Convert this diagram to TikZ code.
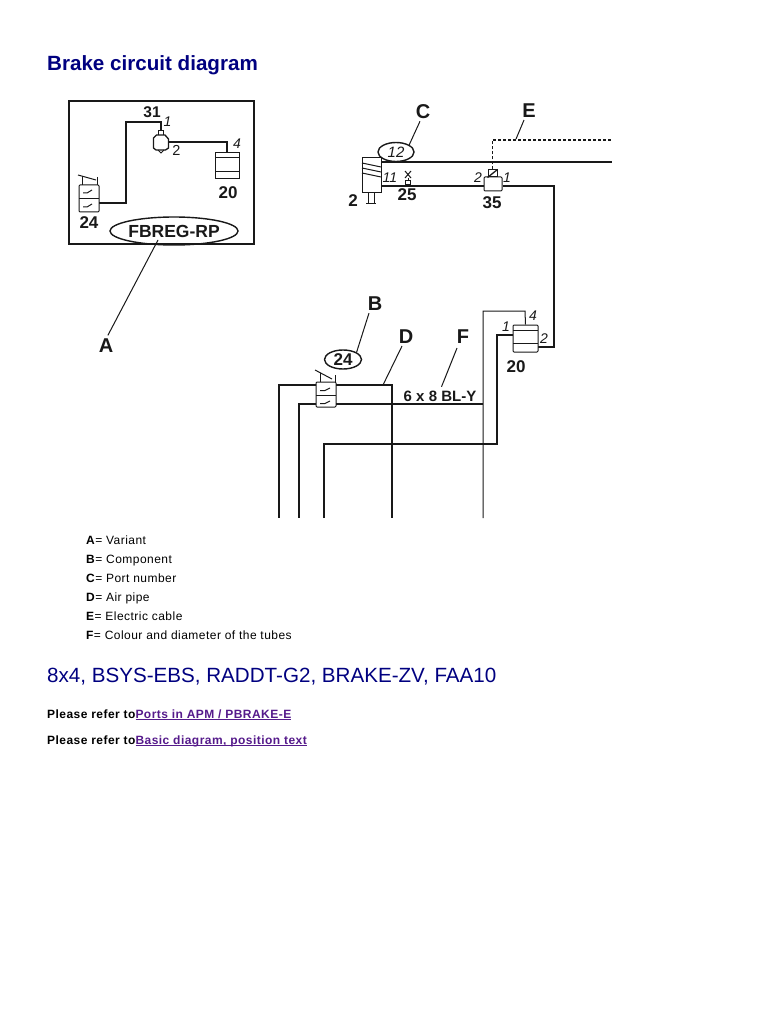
\documentclass[tikz,border=0pt]{standalone}
\usepackage{fontspec}
\setmainfont{Liberation Sans}
\usetikzlibrary{shapes.geometric}
\definecolor{headblue}{RGB}{0,0,128}
\definecolor{linkpurple}{RGB}{85,26,139}
\definecolor{ink}{RGB}{25,25,25}
\tikzset{
  pipe/.style={ink,line width=1.3pt},
  thinpipe/.style={ink,line width=1pt},
  thickpipe/.style={ink,line width=1.6pt},
  cable/.style={ink,line width=1.6pt,dash pattern=on 3pt off 2pt},
  leader/.style={ink,line width=1pt},
  part/.style={draw=ink,line width=1pt,fill=white,inner sep=0pt},
  tag/.style={ink,inner sep=0pt,font=\fontsize{17}{17}\selectfont\bfseries},
  letter/.style={ink,inner sep=0pt,font=\fontsize{20}{20}\selectfont\bfseries},
  port/.style={ink,inner sep=0pt,font=\fontsize{14}{14}\selectfont\itshape},
  oval/.style={draw=ink,ellipse,line width=1.4pt,inner sep=0pt},
  legend/.style={anchor=base west,inner sep=0pt,font=\fontsize{12}{12}\selectfont\addfontfeature{LetterSpace=3.9}},
  refer/.style={anchor=base west,inner sep=0pt,font=\fontsize{12}{12}\selectfont\bfseries\addfontfeature{LetterSpace=3.9}}
}
\begin{document}
\begin{tikzpicture}[x=1pt,y=-1pt]
\useasboundingbox (0,0) rectangle (768,1024);
\fill[white] (0,0) rectangle (768,1024);
\node[anchor=base west,inner sep=0pt,text=headblue,font=\fontsize{20.6}{20.6}\selectfont\bfseries] (title) at (47,71) {Brake circuit diagram};

\draw[ink,line width=1.4pt] (69,101) rectangle (254,244);
\node[part,minimum width=20pt,minimum height=27pt,rounded corners=1pt] (smallsw) at (89,198.5) {};
\node[part,minimum width=24pt,minimum height=26pt] (smallrel) at (227,166) {};
\coordinate (smallsw2) at (99,203);
\coordinate (smallvalve1) at (161,130);
\coordinate (smallvalve2) at (168.5,142);
\draw[pipe] (smallsw2) -- (126,203) -- (126,122) -- (161,122) -- (smallvalve1);
\draw[pipe] (smallvalve2) -- (227,142) -- (smallrel.north);
\draw[thinpipe] (79,199) -- (99,199);
\draw[thinpipe] (83,193) -- (87,193) -- (92,190);
\draw[thinpipe] (83,207) -- (87,207) -- (92,204);
\draw[thinpipe] (78,175) -- (96,180);
\draw[thinpipe] (82,176) -- (82,185);
\draw[thinpipe] (97,177) -- (97,185);
\draw[thinpipe] (215,158) -- (239,158);
\draw[thinpipe] (215,172) -- (239,172);
\draw[pipe] (158.5,135) -- (158.5,130.5) -- (163.5,130.5) -- (163.5,135);
\draw[pipe] (153.5,138) -- (156.5,135) -- (165,135) -- (168.5,139) -- (168.5,148) -- (165.5,150) -- (156,150) -- (153.5,148) -- cycle;
\draw[thinpipe] (158,150) -- (161,153) -- (164,150);
\node[tag,font=\fontsize{15.5}{15.5}\selectfont\bfseries] (n31) at (152,112) {31};
\node[port] (n1) at (167.5,122) {1};
\node[ink,inner sep=0pt,font=\fontsize{14.5}{14.5}\selectfont] (n2) at (176.5,150) {2};
\node[port] (n4) at (237,144) {4};
\node[tag] (n20) at (228,193) {20};
\node[tag] (n24) at (89,223) {24};
\node[oval,minimum width=128pt,minimum height=28pt] (fbreg) at (174,231) {};
\node[ink,inner sep=0pt,font=\fontsize{17.5}{17.5}\selectfont\bfseries] (fbregtext) at (174,231) {FBREG-RP};
\node[letter] (letterA) at (106,346) {A};
\draw[leader,shorten >=4pt] (158,240) -- (letterA.north);

\draw[thickpipe] (380,162) -- (612,162);
\node[part,minimum width=19pt,minimum height=35pt] (chamber) at (371.5,175.5) {};
\draw[thinpipe] (362,163) -- (381,167);
\draw[thinpipe] (362,168) -- (381,172);
\draw[thinpipe] (362,173) -- (381,177);
\draw[thinpipe] (368,193) -- (368,203);
\draw[thinpipe] (374,193) -- (374,203);
\draw[thinpipe] (366,203.5) -- (376,203.5);
\node[part,minimum width=18pt,minimum height=14pt,rounded corners=1pt] (valve) at (493,184) {};
\node[part,minimum width=5pt,minimum height=4pt] (plug) at (407.5,183) {};
\node[part,minimum width=9pt,minimum height=7pt] (coil) at (492.5,173.5) {};
\draw[thinpipe] (405,171) -- (411,178);
\draw[thinpipe] (411,171) -- (405,178);
\draw[thinpipe] (408,178) -- (408,181);
\draw[pipe] (coil.south west) -- (coil.north east);
\draw[pipe] (chamber.east |- 0,186) -- (valve.west |- 0,186);
\draw[pipe] (valve.east |- 0,186) -- (554,186) -- (554,347) -- (538,347);
\coordinate (cableend) at (612,140);
\draw[cable] (coil.north) -- (492.5,140) -- (cableend);
\node[oval,fill=white,minimum width=36pt,minimum height=19pt] (oval12) at (396,152) {};
\node[ink,inner sep=0pt,font=\fontsize{15}{15}\selectfont\itshape] (t12) at (396,152) {12};
\node[letter] (letterC) at (423,112) {C};
\node[letter] (letterE) at (529,111) {E};
\coordinate (cabletap) at (516,139);
\draw[leader] (letterC.south) ++(-3,2) -- (oval12.north east);
\draw[leader] (letterE.south) ++(-5,2) -- (cabletap);
\node[tag] (n2b) at (353,201) {2};
\node[port] (n11) at (390,178) {11};
\node[tag] (n25) at (407,195) {25};
\node[port] (n2c) at (478,178) {2};
\node[port] (n1c) at (507,178) {1};
\node[tag] (n35) at (492,203) {35};

\node[part,minimum width=25pt,minimum height=27pt,rounded corners=1pt] (relay) at (525.5,338.5) {};
\draw[thinpipe] (513,330) -- (538,330);
\draw[thinpipe] (513,343) -- (538,343);
\node[part,minimum width=20pt,minimum height=25pt,rounded corners=1pt] (switch) at (326,394.5) {};
\draw[thinpipe] (316,395.5) -- (336,395.5);
\draw[thinpipe] (320,390.5) -- (325,390.5) -- (330,388);
\draw[thinpipe] (320,403.5) -- (325,403.5) -- (330,401);
\draw[thinpipe] (315,370) -- (332,379);
\draw[thinpipe] (320.5,373) -- (320.5,382);
\draw[thinpipe] (335,375) -- (335,382);
\coordinate (swtop) at (336,385);
\coordinate (swlow) at (336,404);
\coordinate (swtopl) at (316,385);
\coordinate (swlowl) at (316,404);
\draw[pipe] (swtopl) -- (279,385) -- (279,518);
\draw[pipe] (swlowl) -- (299,404) -- (299,518);
\draw[pipe] (swtop) -- (392,385) -- (392,518);
\draw[pipe] (324,518) -- (324,444) -- (497,444) -- (497,335) -- (513,335);
\draw[pipe] (swlow) -- (483,404);
\draw[thinpipe] (483,518) -- (483,311) -- (525,311) -- (relay.north);
\node[oval,minimum width=37pt,minimum height=19pt] (oval24) at (343,359.5) {};
\node[tag] (t24) at (343,360) {24};
\node[letter] (letterB) at (375,304) {B};
\node[letter] (letterD) at (406,337) {D};
\node[letter] (letterF) at (463,337) {F};
\coordinate (pipetapD) at (383,385);
\node[ink,inner sep=0pt,font=\fontsize{15}{15}\selectfont\bfseries] (size) at (440,396) {6 x 8 BL-Y};
\draw[leader] (letterB.south) ++(-6,2) -- (oval24.north east);
\draw[leader] (letterD.south) ++(-4,2) -- (pipetapD);
\draw[leader,shorten >=4pt] (letterF.south) ++(-6,4) -- (size.north);
\node[port] (n4b) at (533,316) {4};
\node[port] (n1b) at (506,327) {1};
\node[port] (n2d) at (544,339) {2};
\node[tag] (n20b) at (516,367) {20};

\node[legend] (legA) at (86,544) {\textbf{A}= Variant};
\node[legend] (legB) at (86,563) {\textbf{B}= Component};
\node[legend] (legC) at (86,582) {\textbf{C}= Port number};
\node[legend] (legD) at (86,601) {\textbf{D}= Air pipe};
\node[legend] (legE) at (86,620) {\textbf{E}= Electric cable};
\node[legend] (legF) at (86,639) {\textbf{F}= Colour and diameter of the tubes};
\node[anchor=base west,inner sep=0pt,text=headblue,font=\fontsize{20.6}{20.6}\selectfont] (heading) at (47,682) {8x4, BSYS-EBS, RADDT-G2, BRAKE-ZV, FAA10};
\node[refer] (ref1) at (47,718) {Please refer to\textcolor{linkpurple}{\underline{\smash{Ports in APM / PBRAKE-E}}}};
\node[refer] (ref2) at (47,744) {Please refer to\textcolor{linkpurple}{\underline{\smash{Basic diagram, position text}}}};
\end{tikzpicture}
\end{document}
